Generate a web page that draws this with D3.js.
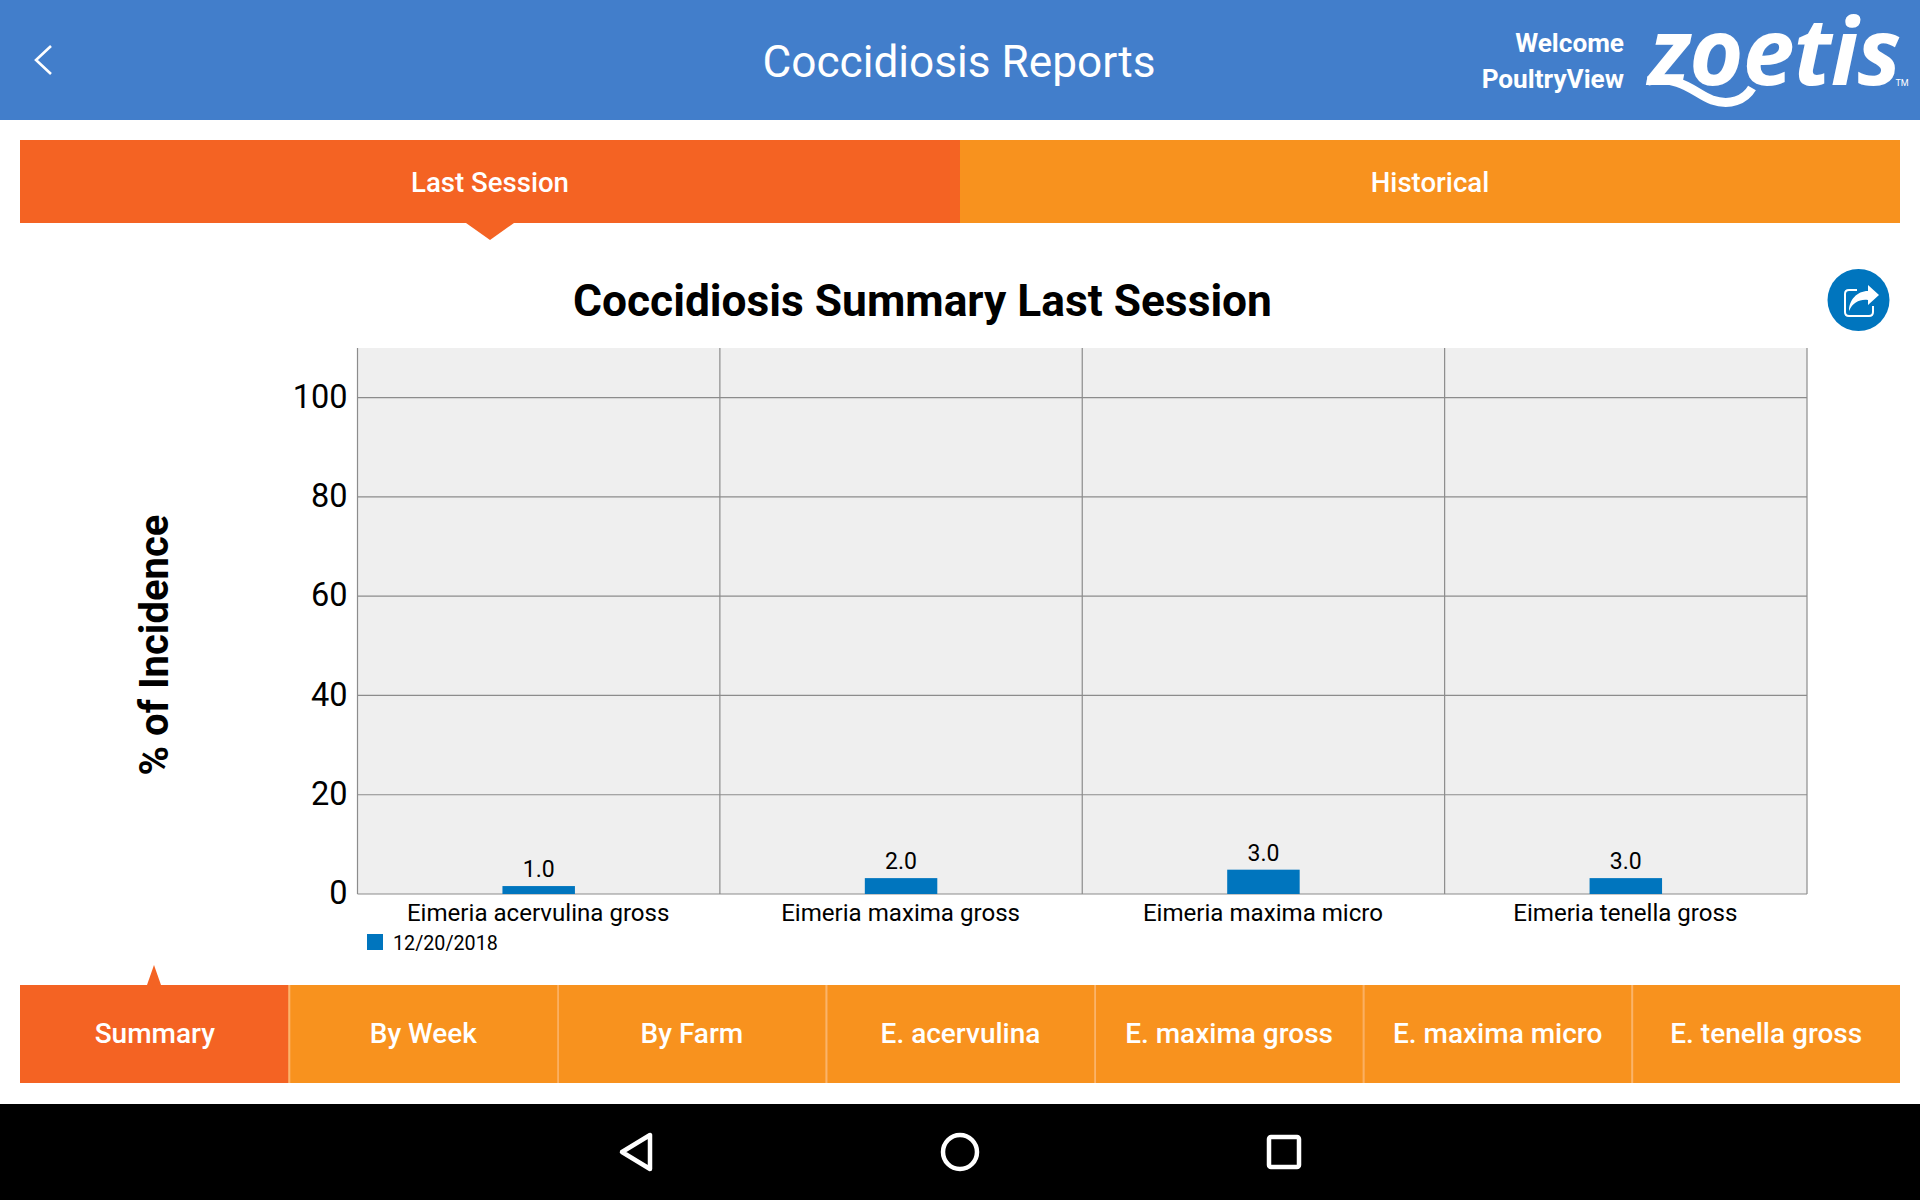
<!DOCTYPE html>
<html>
<head>
<meta charset="utf-8">
<script src="https://cdn.jsdelivr.net/npm/d3@7"></script>
<style>
  html, body { margin: 0; padding: 0; background: #fff; }
  svg { display: block; font-family: Roboto, sans-serif; }
  .axis .domain { display: none; }
  .axis .tick line { display: none; }
</style>
</head>
<body>
<svg id="chart" width="1920" height="1200"></svg>
<script>
// Chart data
const categories = ['Eimeria acervulina gross', 'Eimeria maxima gross', 'Eimeria maxima micro', 'Eimeria tenella gross'];
const barValues = [1.6, 3.2, 4.9, 3.2]; // bar heights as drawn against the axis
const barLabels = ['1.0', '2.0', '3.0', '3.0']; // printed labels differ from bar heights in the source
const yTicks = [0, 20, 40, 60, 80, 100];
const legendLabels = ['12/20/2018'];
const topTabs = ['Last Session', 'Historical'];
const bottomTabs = ['Summary', 'By Week', 'By Farm', 'E. acervulina', 'E. maxima gross', 'E. maxima micro', 'E. tenella gross'];

const BLUE = '#0075be';
const ORANGE = '#f8921e';
const ACTIVE = '#f46323';

const svg = d3.select('#chart');

function rect(parent, x, y, w, h, fill) {
  return parent.append('rect').attr('x', x).attr('y', y).attr('width', w).attr('height', h).attr('fill', fill);
}

function label(parent, x, y, str, size, weight, fill, anchor = 'middle') {
  return parent.append('text')
    .attr('x', x).attr('y', y)
    .attr('text-anchor', anchor)
    .attr('dominant-baseline', 'central')
    .attr('font-size', size)
    .attr('font-weight', weight)
    .attr('fill', fill)
    .text(str);
}

// Header bar
const header = svg.append('g');
rect(header, 0, 0, 1920, 120, '#427ecb');
header.append('path').attr('d', 'M51,46 L36,60 L51,74').attr('fill', 'none').attr('stroke', '#fff').attr('stroke-width', 2.6);
label(header, 959, 62, 'Coccidiosis Reports', 44.2, 400, '#fff');
label(header, 1624, 43, 'Welcome', 26.2, 700, '#fff', 'end');
label(header, 1624, 79, 'PoultryView', 26.2, 700, '#fff', 'end');

// Logo
header.append('text')
  .attr('x', 1648).attr('y', 85)
  .attr('font-family', '"Open Sans", sans-serif')
  .attr('font-size', 93).attr('font-weight', 700).attr('font-style', 'italic')
  .attr('letter-spacing', -1)
  .attr('fill', '#fff')
  .text('zoetis');
header.append('path')
  .attr('d', 'M1648,81 C1682,75 1695,94 1712,100 C1730,106 1745,100 1752,88')
  .attr('fill', 'none').attr('stroke', '#fff').attr('stroke-width', 9);
label(header, 1902, 83, 'TM', 9, 400, '#fff');

// Top tabs
const tabX = d3.scaleBand().domain(topTabs).range([20, 1900]);
const topTab = svg.append('g').selectAll('g').data(topTabs).join('g');
topTab.append('rect')
  .attr('x', (d) => tabX(d)).attr('y', 140)
  .attr('width', tabX.bandwidth()).attr('height', 83)
  .attr('fill', (d, i) => (i === 0 ? ACTIVE : ORANGE));
topTab.append('text')
  .attr('x', (d) => tabX(d) + tabX.bandwidth() / 2).attr('y', 182)
  .attr('text-anchor', 'middle').attr('dominant-baseline', 'central')
  .attr('font-size', 27.6).attr('font-weight', 500).attr('fill', '#fff')
  .text((d) => d);
svg.append('path').attr('d', 'M466,223 L514,223 L490,240 Z').attr('fill', ACTIVE);

// Chart title and share button
label(svg, 922.5, 301, 'Coccidiosis Summary Last Session', 44.3, 700, '#000');
svg.append('circle').attr('cx', 1858.5).attr('cy', 300).attr('r', 31).attr('fill', BLUE);
svg.append('path')
  .attr('d', 'M1857,290 L1849,290 Q1845,290 1845,294 L1845,312 Q1845,316 1849,316 L1869,316 Q1873,316 1873,312 L1873,306')
  .attr('fill', 'none').attr('stroke', '#fff').attr('stroke-width', 2);
svg.append('path')
  .attr('d', 'M1868,285 L1879,295 L1868,305 L1868,300 C1860,299 1853,302 1849,311 C1849,300 1857,291 1868,291 Z')
  .attr('fill', '#fff');

// Scales
const plot = { left: 357.5, right: 1807, top: 348, bottom: 894 };
const x = d3.scaleBand().domain(categories).range([plot.left, plot.right]);
const y = d3.scaleLinear().domain([0, 110]).range([plot.bottom, plot.top]);
const barWidth = x.bandwidth() * 0.2;

// Plot background and grid
rect(svg, plot.left, plot.top, plot.right - plot.left, plot.bottom - plot.top, '#efefef');
const grid = svg.append('g');
grid.selectAll('line.h').data(yTicks).join('line')
  .attr('class', 'h')
  .attr('x1', plot.left).attr('x2', plot.right)
  .attr('y1', (d) => y(d)).attr('y2', (d) => y(d))
  .attr('stroke', '#8c8c8c').attr('stroke-width', 1.2);
grid.selectAll('line.v').data([0, 1, 2, 3, 4]).join('line')
  .attr('class', 'v')
  .attr('x1', (d) => plot.left + d * x.bandwidth()).attr('x2', (d) => plot.left + d * x.bandwidth())
  .attr('y1', plot.top).attr('y2', plot.bottom)
  .attr('stroke', '#8c8c8c').attr('stroke-width', 1.2);

// Bars and their labels
svg.append('g').selectAll('rect').data(categories).join('rect')
  .attr('x', (d) => x(d) + (x.bandwidth() - barWidth) / 2)
  .attr('y', (d, i) => y(barValues[i]))
  .attr('width', barWidth)
  .attr('height', (d, i) => y(0) - y(barValues[i]))
  .attr('fill', BLUE);
svg.append('g').selectAll('text').data(categories).join('text')
  .attr('x', (d) => x(d) + x.bandwidth() / 2)
  .attr('y', (d, i) => y(barValues[i]) - 16.5)
  .attr('text-anchor', 'middle').attr('dominant-baseline', 'central')
  .attr('font-size', 23).attr('fill', '#000')
  .text((d, i) => barLabels[i]);

// Axes
const yAxis = d3.axisLeft(y).tickValues(yTicks).tickSize(0).tickPadding(10);
svg.append('g').attr('class', 'axis')
  .attr('transform', 'translate(' + plot.left + ',0)')
  .call(yAxis)
  .call((g) => g.selectAll('text').attr('font-size', 32.5).attr('dy', '0.3em').attr('font-family', 'Roboto, sans-serif').attr('fill', '#000'));

const xAxis = d3.axisBottom(x).tickSize(0).tickPadding(10);
svg.append('g').attr('class', 'axis')
  .attr('transform', 'translate(-0.5,' + plot.bottom + ')')
  .call(xAxis)
  .call((g) => g.selectAll('text').attr('font-size', 24.1).attr('font-family', 'Roboto, sans-serif').attr('fill', '#000'));

label(svg, 0, 0, '% of Incidence', 40, 700, '#000')
  .attr('transform', 'translate(154,645) rotate(-90)');

// Legend
rect(svg, 367, 934, 16, 16, BLUE);
label(svg, 393, 943, legendLabels[0], 19.7, 400, '#000', 'start');

// Bottom tabs
const subX = d3.scaleBand().domain(bottomTabs).range([20, 1900]);
svg.append('path').attr('d', 'M147,985 L161,985 L154,965 Z').attr('fill', ACTIVE);
const subTab = svg.append('g').selectAll('g').data(bottomTabs).join('g');
subTab.append('rect')
  .attr('x', (d) => subX(d)).attr('y', 985)
  .attr('width', subX.bandwidth()).attr('height', 98)
  .attr('fill', (d, i) => (i === 0 ? ACTIVE : ORANGE));
subTab.filter((d, i) => i > 0).append('line')
  .attr('x1', (d) => subX(d) + 1).attr('x2', (d) => subX(d) + 1)
  .attr('y1', 985).attr('y2', 1083)
  .attr('stroke', '#fbb36a').attr('stroke-width', 1.5);
subTab.append('text')
  .attr('x', (d) => subX(d) + subX.bandwidth() / 2 + 0.5).attr('y', 1033)
  .attr('text-anchor', 'middle').attr('dominant-baseline', 'central')
  .attr('font-size', 28).attr('font-weight', 500).attr('fill', '#fff')
  .text((d) => d);

// Android navigation bar
rect(svg, 0, 1104, 1920, 96, '#000');
const nav = svg.append('g').attr('fill', 'none').attr('stroke', '#fff').attr('stroke-width', 4.5);
nav.append('path').attr('d', 'M650,1135 L650,1169 L622,1152 Z').attr('stroke-linejoin', 'round');
nav.append('circle').attr('cx', 960).attr('cy', 1152).attr('r', 17);
nav.append('rect').attr('x', 1269).attr('y', 1137).attr('width', 30).attr('height', 30).attr('rx', 2);
</script>
</body>
</html>
